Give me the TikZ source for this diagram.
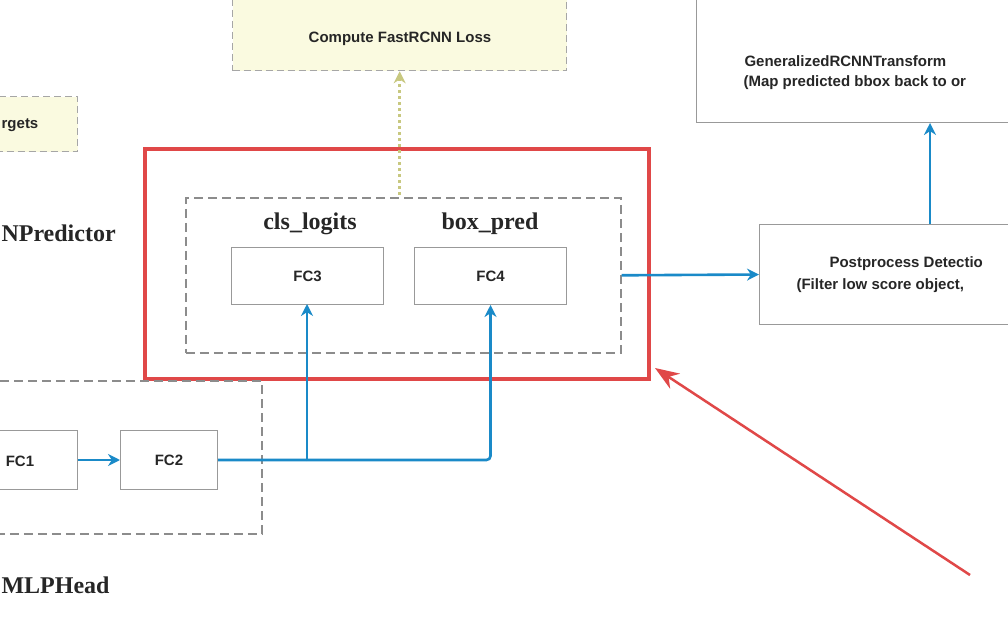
\documentclass[tikz,border=0pt]{standalone}
\usepackage{fontspec}
\setmainfont{Liberation Sans}
\newfontfamily\tnr{Liberation Serif}
\usetikzlibrary{arrows.meta}
\definecolor{bl}{HTML}{1A8AC8}
\definecolor{rd}{HTML}{E04848}
\definecolor{yf}{HTML}{FAFAE0}
\definecolor{yd}{HTML}{C8C880}
\begin{document}
\begin{tikzpicture}[x=1pt,y=-1pt,
 box/.style={draw=gray!80,line width=1pt,fill=white},
 ybox/.style={draw=gray!70,dashed,dash pattern=on 7pt off 4pt,line width=1.3pt,fill=yf},
 dbox/.style={draw=gray!90,dashed,dash pattern=on 9pt off 5pt,line width=1.6pt},
 t/.style={font=\bfseries\fontsize{15}{18}\selectfont,text=black!85},
 s/.style={font=\tnr\bfseries\fontsize{24}{28}\selectfont,text=black!85},
 ar/.style={draw=bl,line width=2.6pt,-{Stealth[length=12pt,width=12pt]}}]
\useasboundingbox (0,0) rectangle (1008,617);
\clip (0,0) rectangle (1008,617);
\fill[white] (0,0) rectangle (1008,617);
% yellow boxes
\node[ybox,minimum width=334,minimum height=76,anchor=north west] (loss) at (232,-6) {};
\node[t] at (400,39) {Compute FastRCNN Loss};
\node[ybox,minimum width=82,minimum height=55,anchor=north west] (tg) at (-5,96) {};
\node[t] at (20,125) {rgets};
% right boxes
\node[box,minimum width=320,minimum height=124,anchor=north west] (gt) at (696,-2) {};
\node[t,anchor=west] at (741,61) {GeneralizedRCNNTransform};
\node[t,anchor=west] at (740,83) {(Map predicted bbox back to or};
\node[box,minimum width=260,minimum height=100,anchor=north west] (pp) at (759,224) {};
\node[t,anchor=west] at (826,264) {Postprocess Detectio};
\node[t,anchor=west] at (793,286) {(Filter low score object,};
% predictor
\node[dbox,minimum width=435,minimum height=155,anchor=north west] (pred) at (185,197) {};
\node[s] at (310,224) {cls\_logits};
\node[s] at (490,224) {box\_pred};
\node[box,minimum width=152,minimum height=57,anchor=north west] (fc3) at (231,247) {};
\node[t] at (fc3) {FC3};
\node[box,minimum width=152,minimum height=57,anchor=north west] (fc4) at (414,247) {};
\node[t] at (fc4) {FC4};
\node[s,anchor=west] at (-2,233) {NPredictor};
\draw[rd,line width=3.5pt] (145,149) rectangle (649,379);
% MLP head
\node[dbox,minimum width=266,minimum height=153,anchor=north west] (mlp) at (-5,380) {};
\node[box,minimum width=82,minimum height=59,anchor=north west] (fc1) at (-5,430) {};
\node[t] at (20,461) {FC1};
\node[box,minimum width=97,minimum height=59,anchor=north west] (fc2) at (120,430) {};
\node[t] at (fc2) {FC2};
\node[s,anchor=west] at (-2,585) {MLPHead};
% connectors
\draw[yd,line width=2.5pt,dashed,-{Stealth[length=12pt,width=12pt]}] (pred.north -| loss.south) ++(0,-2) -- (loss.south);
\draw[ar] (fc1.east) -- (fc2.west);
\draw[ar,rounded corners=4pt] (fc2.east) -- (fc4.south |- fc2.east) -- (fc4.south);
\coordinate (br) at (307,461);
\draw[ar] (br) -- (307,304);
\draw[ar] (pred.east) -- (pp.west);
\draw[ar] (930,224) -- (930,123);
\coordinate (rs) at (970,575);
\draw[rd,line width=2.5pt,-{Stealth[length=24pt,width=18pt]}] (rs) -- (655,368);
\end{tikzpicture}
\end{document}
